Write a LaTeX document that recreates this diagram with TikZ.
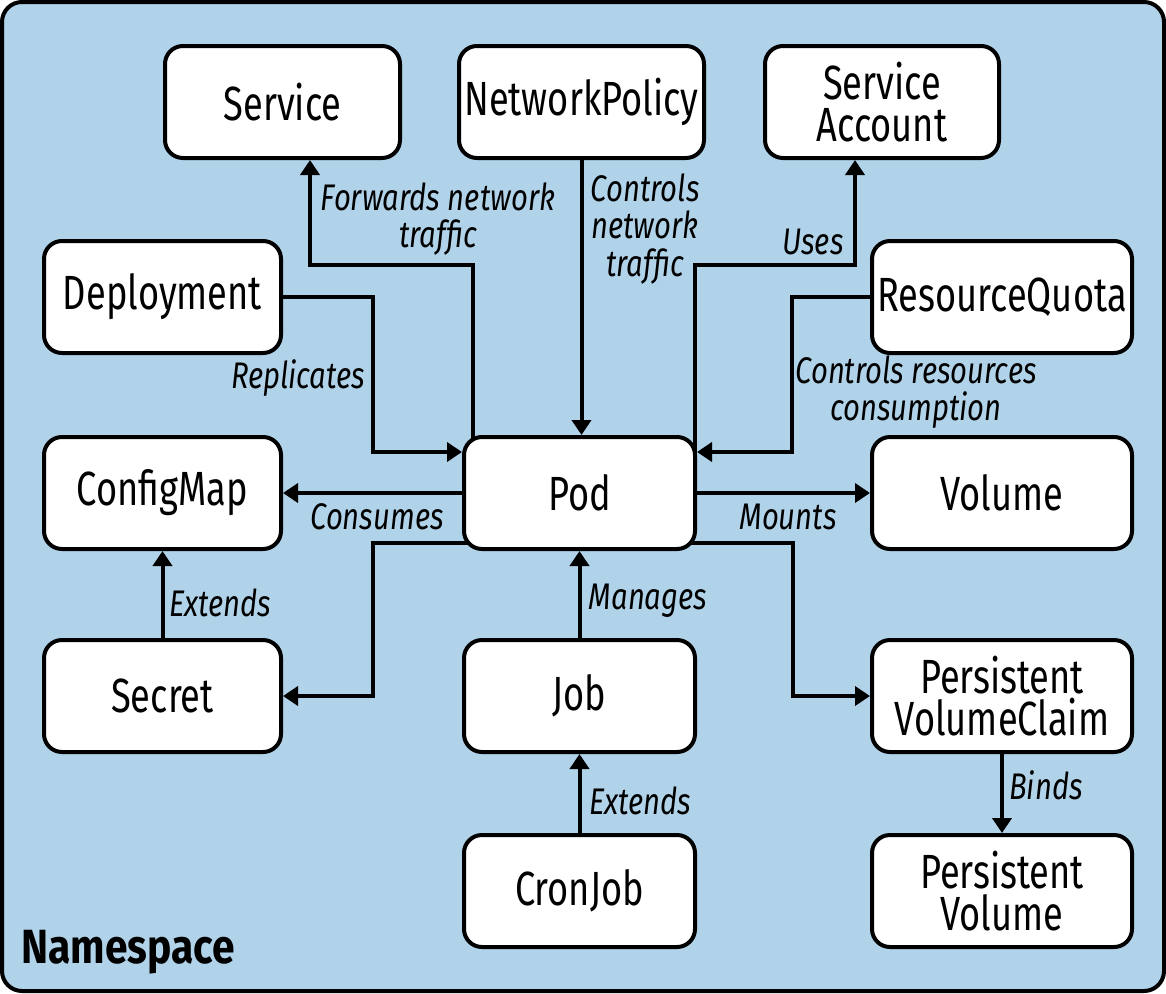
\documentclass[tikz,border=0pt]{standalone}
\usepackage{fontspec}
\setmainfont{Fira Sans}[FakeStretch=0.755]
\newfontfamily\labfont{Fira Sans}[FakeStretch=0.79]
\newfontfamily\nsfont{Fira Sans}[FakeStretch=0.85]
\usetikzlibrary{arrows.meta}
\definecolor{nsblue}{RGB}{177,211,233}
\pgfdeclarelayer{back}
\pgfsetlayers{back,main}
\begin{document}
\begin{tikzpicture}[x=1pt,y=-1pt,
  box/.style={draw, line width=4pt, rounded corners=18pt, fill=white,
    minimum height=112pt, align=center, inner sep=0pt,
    font=\fontsize{48}{41.5}\selectfont},
  conn/.style={line width=4pt, -{Triangle[length=15pt,width=19pt]}},
  lab/.style={font=\labfont\fontsize{37}{37.5}\selectfont\itshape, align=center, inner sep=0pt}]
\useasboundingbox (0,0) rectangle (1166,993);
% nodes
\node[box, minimum width=235pt] (svc)  at (282.5,102) {Service};
\node[box, minimum width=245pt] (np)   at (581.5,102) {NetworkPolicy};
\node[box, minimum width=234pt] (sa)   at (882,102) {Service\\Account};
\node[box, minimum width=237pt] (dep)  at (162.5,297) {Deployment};
\node[box, minimum width=260pt] (rq)   at (1002,297) {ResourceQuota};
\node[box, minimum width=237pt] (cm)   at (162.5,493) {ConfigMap};
\node[box, minimum width=231pt] (pod)  at (579.5,493) {Pod};
\node[box, minimum width=260pt] (vol)  at (1002,493) {Volume};
\node[box, minimum width=237pt] (sec)  at (162.5,696) {Secret};
\node[box, minimum width=231pt] (job)  at (579.5,696) {Job};
\node[box, minimum width=260pt] (pvc)  at (1002,696) {Persistent\\VolumeClaim};
\node[box, minimum width=231pt] (cron) at (579.5,891) {CronJob};
\node[box, minimum width=260pt] (pv)   at (1002,891) {Persistent\\Volume};
\node[anchor=base west, inner sep=0pt, font=\nsfont\fontsize{48}{48}\selectfont\bfseries] (ns) at (21,963) {Namespace};
% labels
\node[lab] (l1)  at (438,219) {Forwards network\\traffic};
\node[lab] (l2)  at (645,229) {Controls\\network\\traffic};
\node[lab] (l3)  at (813,242) {Uses};
\node[lab] (l4)  at (298,378) {Replicates};
\node[lab] (l5)  at (916,392) {Controls resources\\consumption};
\node[lab] (l6)  at (377,517) {Consumes};
\node[lab] (l7)  at (220,603) {Extends};
\node[lab] (l8)  at (648,601) {Manages};
\node[lab] (l9)  at (640,801) {Extends};
\node[lab] (l10) at (788,517) {Mounts};
\node[lab] (l11) at (1046,785) {Binds};
% connectors
\coordinate (f1) at (310,265);
\coordinate (u1) at (855,265);
\coordinate (r1) at (373,452);
\coordinate (q1) at (792,452);
\coordinate (s1) at (373,696);
\coordinate (m1) at (793,696);
\begin{pgfonlayer}{back}
\draw[line width=4pt, fill=nsblue, rounded corners=20pt] (2,2) rectangle (1164,991);
\draw[conn] ([xshift=-107pt,yshift=30pt]pod.center) |- (f1) -- (f1 |- svc.south);
\draw[conn] (np.south) -- (np.south |- pod.north);
\draw[conn] ([xshift=115pt,yshift=30pt]pod.center) |- (u1) -- (u1 |- sa.south);
\draw[conn] (dep.east) -| (r1) -- (r1 -| pod.west);
\draw[conn] (rq.west) -| (q1) -- (q1 -| pod.east);
\draw[conn] (pod.west) -- (pod.west -| cm.east);
\draw[conn] ([xshift=-80pt,yshift=-50pt]pod.center) -| (s1) -- (s1 -| sec.east);
\draw[conn] (sec.north) -- (cm.south);
\draw[conn] (job.north) -- (pod.south);
\draw[conn] (cron.north) -- (job.south);
\draw[conn] (pod.east) -- (vol.west);
\draw[conn] ([xshift=80pt,yshift=-50pt]pod.center) -| (m1) -- (m1 -| pvc.west);
\draw[conn] (pvc.south) -- (pv.north);
\end{pgfonlayer}
\end{tikzpicture}
\end{document}
